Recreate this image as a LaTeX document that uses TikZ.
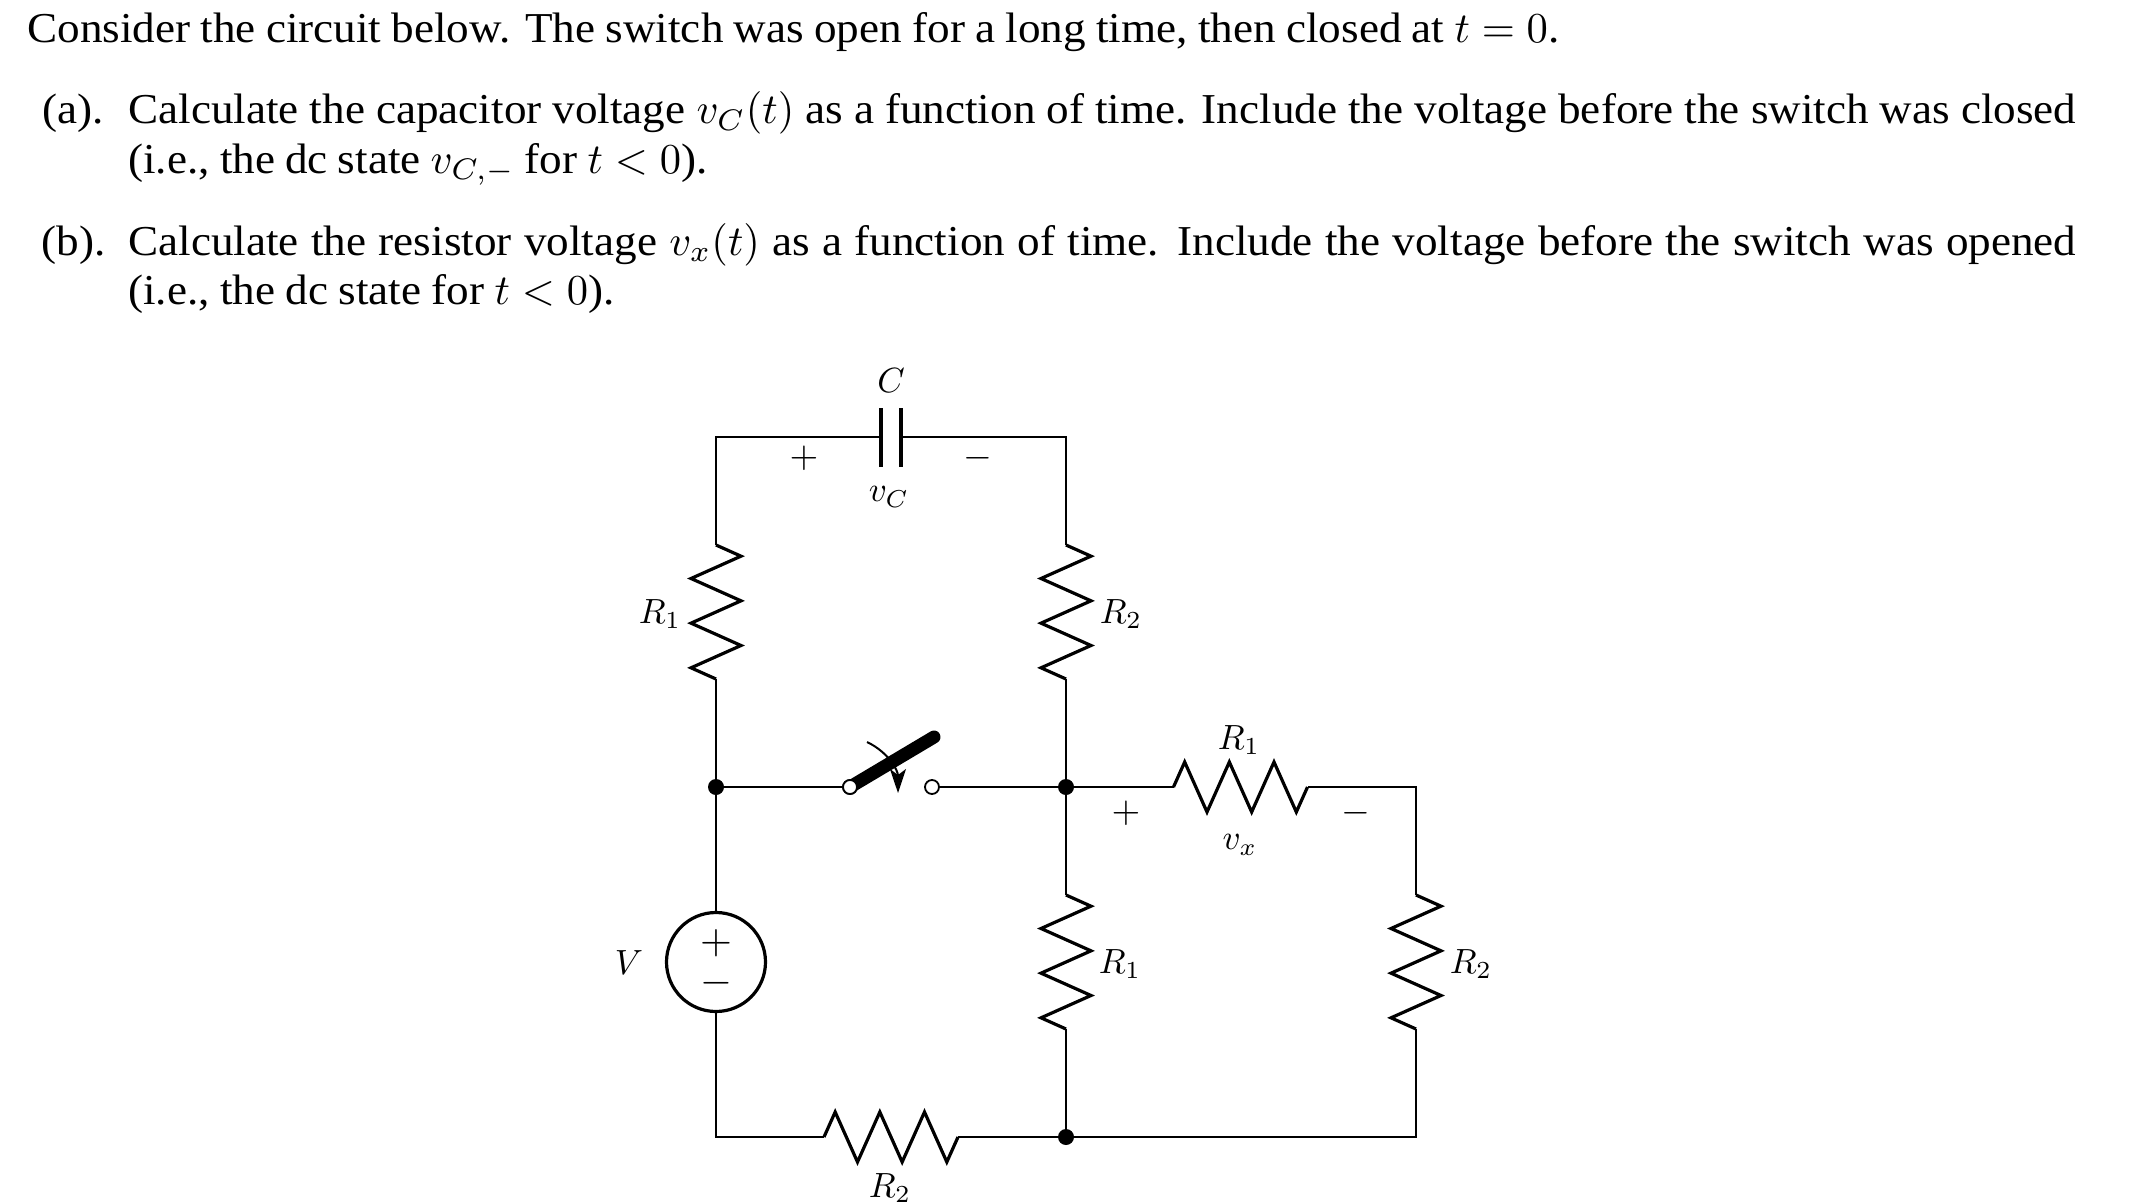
\RequirePackage{fix-cm}
\documentclass[tikz,border=0pt]{standalone}
\usepackage[no-math]{fontspec}
\setmainfont[FakeStretch=1.06]{Liberation Serif}
\usetikzlibrary{arrows.meta}
\newcommand{\mth}[1]{\scalebox{2.13}{\fontsize{10}{12}\selectfont$#1$}}
\tikzset{
  wire/.style={line width=1pt,line join=miter},
  res/.style={line width=1.6pt,line join=miter},
  plate/.style={line width=1.6pt},
  para/.style={anchor=base west,inner sep=0pt,font=\fontsize{21.3}{24}\selectfont},
  lab/.style={inner sep=0pt,font=\fontsize{10}{12}\selectfont,scale=1.75},
  sign/.style={inner sep=0pt,font=\fontsize{10}{12}\selectfont,scale=1.85},
  bigsign/.style={inner sep=0pt,font=\fontsize{10}{12}\selectfont,scale=2.05},
  dot/.style={circle,fill=black,draw=none,minimum size=8pt,inner sep=0pt},
  term/.style={circle,fill=white,draw=black,line width=0.9pt,minimum size=7pt,inner sep=0pt},
  src/.style={circle,draw=black,line width=1.6pt,minimum size=49.5pt,inner sep=0pt},
}
\newcommand{\vres}[3]{%
  \coordinate (#1-a) at (#2,#3);
  \coordinate (#1-b) at (#2,#3+134);
  \draw[res] (#1-a) -- ++(25,11.17) -- ++(-50,22.33) -- ++(50,22.33) -- ++(-50,22.33) -- ++(50,22.33) -- ++(-50,22.33) -- (#1-b);
}
\newcommand{\hres}[3]{%
  \coordinate (#1-a) at (#2,#3);
  \coordinate (#1-b) at (#2+134,#3);
  \draw[res] (#1-a) -- ++(11.17,-25) -- ++(22.33,50) -- ++(22.33,-50) -- ++(22.33,50) -- ++(22.33,-50) -- ++(22.33,50) -- (#1-b);
}
\begin{document}
\begin{tikzpicture}[x=0.5pt,y=-0.5pt]
\useasboundingbox (0,0) rectangle (2142,1204);
% text
\node[para] (t1) at (27,43) {\makebox[766pt][s]{Consider the circuit below. The switch was open for a long time, then closed at \mth{t=0}.}};
\node[para] (ta) at (42,124) {(a).};
\node[para] (ta1) at (128,124) {\makebox[974pt][s]{Calculate the capacitor voltage \mth{v_C(t)} as a function of time. Include the voltage before the switch was closed}};
\node[para] (ta2) at (128,173) {\makebox[289.5pt][s]{(i.e., the dc state \mth{v_{C,-}} for \mth{t<0}).}};
\node[para] (tb) at (41,255) {(b).};
\node[para] (tb1) at (128,255) {\makebox[974pt][s]{Calculate the resistor voltage \mth{v_x(t)} as a function of time. Include the voltage before the switch was opened}};
\node[para] (tb2) at (128,304) {\makebox[243pt][s]{(i.e., the dc state for \mth{t<0}).}};
% corners and nodes
\coordinate (tl) at (716,437);
\coordinate (tr) at (1066,437);
\coordinate (br) at (1416,1137);
\coordinate (bl) at (716,1137);
\coordinate (rc) at (1416,787);
\coordinate (c1) at (881,437);
\coordinate (c2) at (901,437);
\node[dot] (j1) at (716,787) {};
\node[dot] (j2) at (1066,787) {};
\node[dot] (j3) at (1066,1137) {};
% resistors
\vres{ra}{716}{545}
\vres{rb}{1066}{545}
\vres{rc}{1066}{895}
\vres{rd}{1416}{895}
\hres{re}{1173.5}{787}
\hres{rf}{824}{1137}
% source
\node[src] (v) at (716,962) {};
\node[bigsign] (vp) at (716,943) {$+$};
\node[bigsign] (vm) at (716,983) {$-$};
% wires
\draw[wire] (c1) -- (tl) -- (ra-a);
\draw[wire] (c2) -- (tr) -- (rb-a);
\draw[wire] (ra-b) -- (j1) -- (v);
\draw[wire] (v) -- (bl) -- (rf-a);
\draw[wire] (rf-b) -- (j3);
\draw[wire] (rb-b) -- (j2) -- (rc-a);
\draw[wire] (rc-b) -- (j3) -- (br) -- (rd-b);
\draw[wire] (j2) -- (re-a);
\draw[wire] (re-b) -- (rc) -- (rd-a);
% capacitor
\draw[plate] (881,408) -- (881,467);
\draw[plate] (901,408) -- (901,467);
% switch
\coordinate (lever) at (934,737);
\coordinate (s0) at (850,787);
\node[term] (sa) at (850,787) {};
\node[term] (sb) at (932,787) {};
\draw[wire] (j1) -- (sa);
\draw[wire] (sb) -- (j2);
\draw[line width=6.5pt,line cap=round] (s0) -- (lever);
\node[term] at (s0) {};
\coordinate (aa) at (867,742);
\coordinate (ab) at (898,793);
\draw[wire,-{Stealth[length=12pt,width=8pt,inset=3pt]}] (aa) .. controls (888,752) and (898,770) .. (ab);
% labels
\node[lab] (lc) at (891,381) {$C$};
\node[lab] (lvc) at (889,497) {$v_C$};
\node[sign] (p1) at (804,458) {$+$};
\node[sign] (m1) at (978,458) {$-$};
\node[lab] (l1) at (660,614) {$R_1$};
\node[lab] (l2) at (1121,614) {$R_2$};
\node[lab] (l3) at (629,963) {$V$};
\node[lab] (l4) at (1120,964) {$R_1$};
\node[lab] (l5) at (890,1188) {$R_2$};
\node[lab] (l6) at (1239,740) {$R_1$};
\node[lab] (l7) at (1240,845) {$v_x$};
\node[lab] (l8) at (1471,964) {$R_2$};
\node[sign] (p2) at (1126,813) {$+$};
\node[sign] (m2) at (1356,813) {$-$};
\end{tikzpicture}
\end{document}
